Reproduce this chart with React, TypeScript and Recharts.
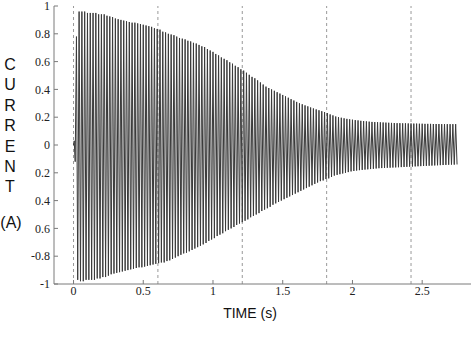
import { LineChart, Line, XAxis, YAxis, ReferenceLine } from "recharts";

// Startup transient before the steady 50 Hz oscillation (s, A)
const startupTimes = [0, 0.005, 0.012, 0.021, 0.03];
const startupValues = [0, 0.03, -0.12, 0.78, -0.97];

// Peak current per cycle (one cycle = 0.02 s, first peak at 0.04 s)
const positivePeaks = [
  0.96, 0.96, 0.96, 0.95, 0.95, 0.95, 0.95, 0.94, 0.94, 0.94,
  0.93, 0.925, 0.92, 0.91, 0.905, 0.9, 0.895, 0.89, 0.885, 0.88,
  0.88, 0.875, 0.87, 0.865, 0.86, 0.855, 0.85, 0.84, 0.835, 0.83,
  0.815, 0.81, 0.8, 0.795, 0.79, 0.78, 0.77, 0.765, 0.76, 0.75,
  0.745, 0.735, 0.73, 0.72, 0.71, 0.705, 0.69, 0.68, 0.67, 0.655,
  0.645, 0.63, 0.62, 0.61, 0.595, 0.585, 0.57, 0.56, 0.545, 0.535,
  0.52, 0.505, 0.49, 0.48, 0.465, 0.45, 0.435, 0.42, 0.41, 0.4,
  0.39, 0.38, 0.37, 0.36, 0.35, 0.34, 0.33, 0.32, 0.31, 0.3,
  0.293, 0.285, 0.278, 0.27, 0.263, 0.256, 0.25, 0.243, 0.237, 0.23,
  0.22, 0.213, 0.205, 0.2, 0.196, 0.192, 0.188, 0.185, 0.182, 0.179,
  0.177, 0.174, 0.172, 0.17, 0.168, 0.166, 0.165, 0.164, 0.163, 0.162,
  0.161, 0.16, 0.159, 0.158, 0.157, 0.157, 0.156, 0.156, 0.155, 0.155,
  0.154, 0.154, 0.153, 0.153, 0.152, 0.152, 0.152, 0.151, 0.151, 0.151,
  0.15, 0.15, 0.15, 0.15, 0.15, 0.15,
];

const negativePeaks = [
  -0.98, -0.98, -0.97, -0.97, -0.97, -0.97, -0.96, -0.96, -0.95, -0.95,
  -0.94, -0.93, -0.925, -0.92, -0.915, -0.91, -0.905, -0.9, -0.895, -0.89,
  -0.885, -0.88, -0.88, -0.875, -0.87, -0.865, -0.86, -0.855, -0.85, -0.845,
  -0.845, -0.835, -0.83, -0.82, -0.81, -0.8, -0.79, -0.78, -0.775, -0.765,
  -0.755, -0.745, -0.735, -0.725, -0.715, -0.705, -0.69, -0.68, -0.67, -0.655,
  -0.645, -0.635, -0.62, -0.61, -0.6, -0.59, -0.575, -0.565, -0.555, -0.545,
  -0.535, -0.52, -0.51, -0.5, -0.49, -0.475, -0.465, -0.455, -0.445, -0.43,
  -0.42, -0.41, -0.4, -0.39, -0.38, -0.37, -0.36, -0.35, -0.34, -0.33,
  -0.32, -0.31, -0.3, -0.29, -0.28, -0.27, -0.26, -0.255, -0.245, -0.24,
  -0.23, -0.22, -0.215, -0.21, -0.205, -0.2, -0.195, -0.19, -0.187, -0.184,
  -0.181, -0.179, -0.177, -0.175, -0.173, -0.171, -0.169, -0.167, -0.166, -0.165,
  -0.164, -0.163, -0.162, -0.161, -0.16, -0.159, -0.158, -0.157, -0.156, -0.155,
  -0.154, -0.153, -0.152, -0.151, -0.15, -0.149, -0.148, -0.147, -0.146, -0.145,
  -0.144, -0.143, -0.142, -0.141, -0.141, -0.14,
];

const FIRST_PEAK_TIME = 0.04;
const HALF_CYCLE = 0.01;

// Axis ticks and labels
const xTicks = [0, 0.5, 1, 1.5, 2, 2.5];
const yTicks = [1, 0.8, 0.6, 0.4, 0.2, 0, -0.2, -0.4, -0.6, -0.8, -1];
const yTickLabels = ["1", "0.8", "0.6", "0.4", "0.2", "0", "0.2", "0.4", "0.6", "-0.8", "-1"];

// Dashed vertical markers
const markerTimes = [0, 0.605, 1.21, 1.815, 2.42];

const yLabelLetters = ["C", "U", "R", "R", "E", "N", "T"];

const data: { t: number; i: number }[] = [];
startupTimes.forEach((t, k) => data.push({ t, i: startupValues[k] }));
positivePeaks.forEach((p, k) => {
  const t = FIRST_PEAK_TIME + k * 2 * HALF_CYCLE;
  data.push({ t, i: p });
  data.push({ t: t + HALF_CYCLE, i: negativePeaks[k] });
});

const FRAME = "#7a7a7a";
const SERIF = "Liberation Serif";

function XTick({ x, y, payload }: any) {
  return (
    <text x={x} y={y} dy="0.75em" textAnchor="middle" fontFamily={SERIF} fontSize={12} fill="#222">
      {String(payload.value)}
    </text>
  );
}

function YTick({ x, y, payload }: any) {
  const idx = yTicks.indexOf(payload.value);
  return (
    <text x={x} y={y} dy="0.35em" textAnchor="end" fontFamily={SERIF} fontSize={12} fill="#222">
      {idx >= 0 ? yTickLabels[idx] : String(payload.value)}
    </text>
  );
}

export default function App() {
  return (
    <div style={{ position: "fixed", left: 0, top: 0, width: 474, height: 345, background: "#fff" }}>
      <LineChart width={474} height={345} data={data} margin={{ top: 6, right: 3, bottom: 0, left: 0 }}>
        <XAxis
          xAxisId="bottom"
          dataKey="t"
          type="number"
          domain={[-0.14, 2.85]}
          ticks={xTicks}
          interval={0}
          height={61}
          tickSize={-4}
          tickMargin={6}
          stroke={FRAME}
          tick={<XTick />}
          allowDataOverflow
        />
        <XAxis
          xAxisId="top"
          orientation="top"
          dataKey="t"
          type="number"
          domain={[-0.14, 2.85]}
          ticks={xTicks}
          interval={0}
          height={0}
          tickSize={-4}
          tick={false}
          stroke={FRAME}
          allowDataOverflow
        />
        <YAxis
          yAxisId="left"
          type="number"
          domain={[-1, 1]}
          ticks={yTicks}
          interval={0}
          width={54}
          tickSize={-4}
          tickMargin={8}
          stroke={FRAME}
          tick={<YTick />}
          allowDataOverflow
        />
        <YAxis
          yAxisId="right"
          orientation="right"
          type="number"
          domain={[-1, 1]}
          ticks={yTicks}
          interval={0}
          width={0}
          tickSize={-4}
          tick={false}
          stroke={FRAME}
          allowDataOverflow
        />
        {markerTimes.map((m) => (
          <ReferenceLine
            key={m}
            x={m}
            xAxisId="bottom"
            yAxisId="left"
            stroke="#999"
            strokeDasharray="3 3"
          />
        ))}
        <Line
          xAxisId="bottom"
          yAxisId="left"
          type="linear"
          dataKey="i"
          stroke="#3a3a3a"
          strokeWidth={1}
          dot={false}
          isAnimationActive={false}
        />
      </LineChart>
      {yLabelLetters.map((ch, k) => (
        <div
          key={k}
          style={{
            position: "absolute",
            left: 0,
            width: 20,
            top: 65 + k * 20.4 - 10,
            textAlign: "center",
            font: "16px 'Liberation Sans'",
            lineHeight: "20px",
            color: "#111",
          }}
        >
          {ch}
        </div>
      ))}
      <div
        style={{
          position: "absolute",
          left: 0,
          width: 22,
          top: 213,
          textAlign: "center",
          font: "16px 'Liberation Sans'",
          lineHeight: "20px",
          color: "#111",
        }}
      >
        (A)
      </div>
      <div
        style={{
          position: "absolute",
          left: 200,
          width: 100,
          top: 304,
          textAlign: "center",
          font: "14px 'Liberation Sans'",
          lineHeight: "18px",
          color: "#111",
        }}
      >
        TIME (s)
      </div>
    </div>
  );
}
